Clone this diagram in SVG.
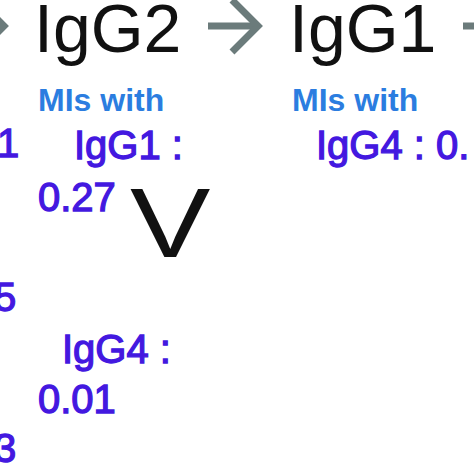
<svg xmlns="http://www.w3.org/2000/svg" width="474" height="474" viewBox="0 0 474 474">
<style>
.big{font-family:"Liberation Sans",Arial,sans-serif;font-size:68px;fill:#111}
.vee{font-family:"Liberation Sans",Arial,sans-serif;font-size:98px;fill:#111}
.mi{font-family:"Liberation Sans",Arial,sans-serif;font-size:32px;font-weight:bold;fill:#2b7de0}
.v{font-family:"Liberation Sans",Arial,sans-serif;font-size:40px;fill:#4318e0;stroke:#4318e0;stroke-width:1.3px}
.arr{fill:none;stroke:#6b7b7b;stroke-width:7}
</style>
<defs>
<g id="arrow">
<line x1="208" y1="26" x2="255" y2="26" class="arr"/>
<polyline points="232,0 258,26 232,52" class="arr" stroke-linejoin="miter"/>
</g>
</defs>
<rect width="474" height="474" fill="#fff"/>
<g id="connectors">
<use href="#arrow" transform="translate(-254,0)"/>
<use href="#arrow"/>
<use href="#arrow" transform="translate(255,0)"/>
</g>
<g id="node-left">
<text class="v" x="-3" y="157">1</text>
<text class="v" x="-6" y="311">5</text>
<text class="v" x="-6" y="462">3</text>
</g>
<g id="node-igg2">
<text class="big" x="34" y="52">IgG2</text>
<text class="mi" x="38" y="111">MIs with</text>
<text class="v" x="74" y="159">IgG1 :</text>
<text class="v" x="38" y="211">0.27</text>
<text class="v" x="62" y="363">IgG4 :</text>
<text class="v" x="38" y="413">0.01</text>
</g>
<g id="node-compare">
<text class="vee" transform="translate(130,257) scale(1.23,1)" x="0" y="0">V</text>
</g>
<g id="node-igg1">
<text class="big" x="289" y="52">IgG1</text>
<text class="mi" x="292" y="111">MIs with</text>
<text class="v" x="316" y="159">IgG4 : 0.</text>
</g>
</svg>
